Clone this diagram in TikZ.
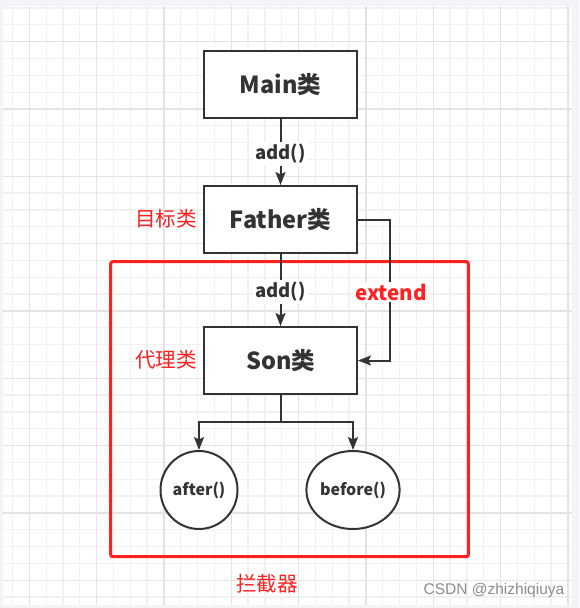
\documentclass[tikz,border=0pt]{standalone}
\usepackage{fontspec}
\setmainfont{Noto Sans CJK SC}
\newfontfamily\wmfont{Liberation Sans}
\usetikzlibrary{arrows.meta,shapes.geometric,calc}
\definecolor{ink}{HTML}{333333}
\definecolor{redc}{HTML}{FF2020}
\definecolor{gminor}{HTML}{F1F1F1}
\definecolor{gmajor}{HTML}{E3E3E3}
\definecolor{outer}{HTML}{F3F4F7}
\tikzset{
  box/.style={draw=ink,line width=2pt,fill=white,minimum width=153pt,minimum height=67pt,inner sep=0pt,text=ink,font=\bfseries\fontsize{23.5}{23.5}\selectfont},
  oval/.style={ellipse,draw=ink,line width=2pt,fill=white,inner sep=0pt,text=ink,font=\bfseries\fontsize{16}{16}\selectfont},
  conn/.style={draw=ink,line width=2pt},
  arr/.style={conn,-{Stealth[length=13pt,width=10pt,inset=2.5pt]}},
  lbl/.style={fill=white,inner sep=2pt,yshift=-2pt,text=ink,font=\bfseries\fontsize{18.5}{18.5}\selectfont},
  elbl/.style={fill=white,inner sep=2pt,text=redc,font=\bfseries\fontsize{20.5}{20.5}\selectfont},
  rlbl/.style={text=redc,font=\fontsize{20.5}{20.5}\selectfont},
  minorln/.style={draw=gminor,line width=1.3pt},
  majorln/.style={draw=gmajor,line width=1.3pt}
}
\begin{document}
\begin{tikzpicture}[x=1pt,y=-1pt]
\useasboundingbox (0,0) rectangle (579,608);
\fill[outer] (0,0) rectangle (579,608);
\fill[white] (3,6) rectangle (572,605);
\foreach \k in {0,...,33}{
  \pgfmathsetmacro\xx{12.5+16.83*\k}
  \draw[minorln] (\xx,6) -- (\xx,605);
}
\foreach \k in {0,...,35}{
  \pgfmathsetmacro\yy{8+16.83*\k}
  \draw[minorln] (3,\yy) -- (572,\yy);
}
\foreach \k in {0,...,8}{
  \pgfmathsetmacro\xx{29.3+67.32*\k}
  \draw[majorln] (\xx,6) -- (\xx,605);
}
\foreach \k in {0,...,8}{
  \pgfmathsetmacro\yy{41.7+67.32*\k}
  \draw[majorln] (3,\yy) -- (572,\yy);
}
% interceptor frame
\draw[redc,line width=3pt,rounded corners=2pt] (110.7,261.7) rectangle (468.3,556.7);
% nodes
\node[box] (main) at (280.5,84.5) {Main类};
\node[box] (father) at (280.5,219.5) {Father类};
\node[box] (son) at (280.5,360.5) {Son类};
\node[oval,minimum width=77pt,minimum height=78pt] (after) at (199,490) {after()};
\node[oval,minimum width=93pt,minimum height=78pt] (before) at (353,490) {before()};
% connectors
\draw[arr] (main) -- node[lbl] (l1) {add()} (father);
\draw[arr] (father) -- node[lbl] (l2) {add()} (son);
\coordinate (ec) at ($(father.east)+(32,0)$);
\draw[arr] (father.east) -- (ec) |- (son.east);
\node[elbl] (ext) at (391,292) {extend};
\coordinate (br) at (son.south |- 0,422);
\draw[conn] (son.south) -- (br);
\draw[arr] (br) -| (after.north);
\draw[arr] (br) -| (before.north);
% red labels
\node[rlbl] (t1) at (166,219) {目标类};
\node[rlbl] (t2) at (166,360) {代理类};
\node[rlbl] (t3) at (267,584) {拦截器};
\node[text=black!45,font=\wmfont\fontsize{15.5}{15.5}\selectfont] (wm) at (494,590) {CSDN @zhizhiqiuya};
\end{tikzpicture}
\end{document}
